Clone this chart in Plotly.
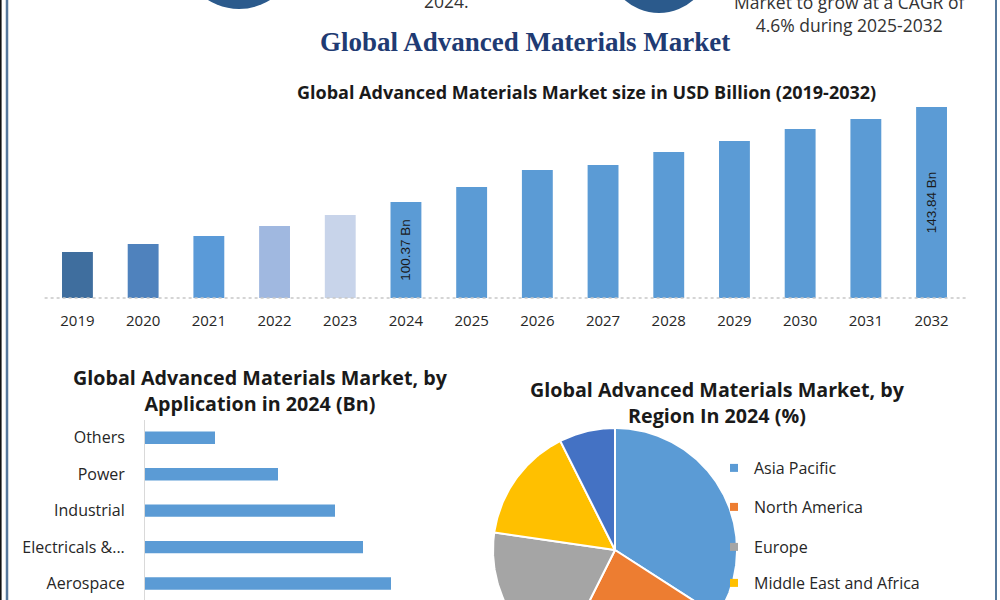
import numpy as np
import plotly.graph_objects as go

# ---------------- data ----------------
years = ["2019", "2020", "2021", "2022", "2023", "2024", "2025",
         "2026", "2027", "2028", "2029", "2030", "2031", "2032"]
market_size = [77.5, 81.1, 84.8, 89.4, 94.4, 100.37, 107.2,
               115.0, 117.3, 123.2, 128.3, 133.8, 138.4, 143.84]
labelled_years = ["2024", "2032"]

applications = ["Aerospace", "Electricals &...", "Industrial", "Power", "Others"]
application_values = [24.6, 21.8, 19.0, 13.3, 7.0]

regions = ["Asia Pacific", "North America", "Europe",
           "Middle East and Africa", "South America"]
region_shares = [34.1, 23.3, 19.9, 15.3, 7.4]

# ---------------- styles ----------------
W, H = 1000, 600
def px(x):
    return x / W
def py(y):
    return 1 - y / H

AXIS_FLOOR = 56.4   # value axis of the main chart does not start at zero
bar_colors = ["#3F6E9E", "#4F82BD", "#5A9AD8", "#A0B8E0", "#C8D4EA"] + ["#5B9BD5"] * 9
region_colors = ["#5B9BD5", "#ED7D31", "#A5A5A5", "#FFC000", "#4472C4"]
SANS = "Open Sans"
TXT = "#262626"

fig = go.Figure()

# ---- main bar chart ----
bar_text = [f"{v:.2f} Bn" if y in labelled_years else "" for y, v in zip(years, market_size)]
fig.add_trace(go.Bar(
    x=years, y=[v - AXIS_FLOOR for v in market_size], base=AXIS_FLOOR,
    customdata=market_size, hovertemplate="%{x}: %{customdata} Bn<extra></extra>",
    marker=dict(color=bar_colors, line=dict(width=0)),
    width=0.47, text=bar_text, textposition="inside", insidetextanchor="middle",
    textangle=-90, textfont=dict(family="Liberation Sans", size=13.5, color="#1a1a1a"),
    showlegend=False, xaxis="x", yaxis="y",
))

# ---- application horizontal bars ----
fig.add_trace(go.Bar(
    y=applications, x=application_values, orientation="h",
    marker=dict(color="#5B9BD5", line=dict(width=0)), width=0.34,
    showlegend=False, xaxis="x2", yaxis="y2",
))

# ---- region pie (wedges drawn on an equal-scale xy subplot so it can be cropped) ----
R = 122
total = sum(region_shares)
start = 0.0
for name, share, col in zip(regions, region_shares, region_colors):
    end = start + share / total * 360.0
    th = np.radians(np.linspace(start, end, max(3, int(share * 6))))
    xs = np.concatenate([[0], R * np.sin(th), [0]])
    ys = np.concatenate([[0], R * np.cos(th), [0]])
    fig.add_trace(go.Scatter(
        x=xs, y=ys, mode="lines", fill="toself", fillcolor=col,
        line=dict(color="white", width=2), name=name, showlegend=False,
        hoverinfo="name", xaxis="x3", yaxis="y3",
    ))
    start = end

# one small legend per visible region entry (the list continues below the crop)
legend_names = ["legend", "legend2", "legend3", "legend4"]
for name, col, lg in zip(regions[:4], region_colors[:4], legend_names):
    fig.add_trace(go.Scatter(
        x=[None], y=[None], mode="markers",
        marker=dict(symbol="square", size=8, color=col),
        name=name, showlegend=True, legend=lg, xaxis="x3", yaxis="y3",
    ))

# ---------------- layout ----------------
legend_style = dict(x=px(714), xanchor="left", font=dict(family=SANS, size=16, color=TXT),
                    itemwidth=30, bgcolor="rgba(0,0,0,0)")
fig.update_layout(
    width=W, height=H, margin=dict(l=0, r=0, t=0, b=0),
    paper_bgcolor="white", plot_bgcolor="white",
    xaxis=dict(domain=[px(44.6), px(964.4)], anchor="y", showgrid=False, zeroline=False,
               showline=False, ticks="", ticklabelstandoff=12,
               tickfont=dict(family=SANS, size=15, color=TXT)),
    yaxis=dict(domain=[py(298), py(100)], anchor="x", range=[AXIS_FLOOR, 147.06],
               visible=False, showgrid=False, zeroline=False),
    xaxis2=dict(domain=[px(145), px(469)], anchor="y2", range=[0, 32.4],
                visible=False, showgrid=False, zeroline=False),
    yaxis2=dict(domain=[0, py(419.6)], anchor="x2", range=[-0.453, 4.5],
                type="category", categoryorder="array", categoryarray=applications,
                showgrid=False, zeroline=False, showline=True, linecolor="#D9D9D9",
                linewidth=1, ticks="", ticklabelstandoff=16,
                tickfont=dict(family=SANS, size=16, color=TXT)),
    xaxis3=dict(domain=[px(470), px(760)], anchor="y3", range=[-145, 145],
                visible=False, showgrid=False, zeroline=False),
    yaxis3=dict(domain=[0, py(420)], anchor="x3", range=[-50, 130],
                visible=False, showgrid=False, zeroline=False),
    legend=dict(y=py(468), yanchor="middle", **legend_style),
    legend2=dict(y=py(507), yanchor="middle", **legend_style),
    legend3=dict(y=py(547), yanchor="middle", **legend_style),
    legend4=dict(y=0, yanchor="bottom", **legend_style),
)

# decorations: borders, circles, dotted baseline
shapes = [
    dict(type="line", xref="paper", yref="paper", x0=px(0.8), x1=px(0.8), y0=0, y1=1,
         line=dict(color="#111111", width=1.6)),
    dict(type="line", xref="paper", yref="paper", x0=px(7), x1=px(7), y0=0, y1=1,
         line=dict(color="#56789C", width=2.5)),
    dict(type="line", xref="paper", yref="paper", x0=px(996), x1=px(996), y0=0, y1=1,
         line=dict(color="#56789C", width=2)),
    dict(type="circle", xref="paper", yref="paper", x0=px(181), x1=px(297),
         y0=py(9), y1=py(-107), fillcolor="#2B5A8C", line=dict(width=0)),
    dict(type="circle", xref="paper", yref="paper", x0=px(607), x1=px(711),
         y0=py(13), y1=py(-91), fillcolor="#2B5A8C", line=dict(width=0)),
    dict(type="line", xref="x domain", yref="y domain", x0=0, x1=1.002, y0=0, y1=0,
         line=dict(color="#C8C8C8", width=1.5, dash="dot")),
]
fig.update_layout(shapes=shapes)

annotations = [
    dict(text="2024.", x=px(446), y=py(1), font=dict(family=SANS, size=17.5, color="#333333")),
    dict(text="Market to grow at a CAGR of<br>4.6% during 2025-2032", x=px(849), y=py(13),
         font=dict(family=SANS, size=17.5, color="#333333")),
    dict(text="<b>Global Advanced Materials Market</b>", x=px(525), y=py(42),
         font=dict(family="Liberation Serif", size=27, color="#1F3B73")),
    dict(text="<b>Global Advanced Materials Market size in USD Billion (2019-2032)</b>",
         x=px(586), y=py(92), font=dict(family=SANS, size=18, color="#1a1a1a")),
    dict(text="<b>Global Advanced Materials Market, by<br>Application in 2024 (Bn)</b>",
         x=px(260), y=py(391), font=dict(family=SANS, size=19.7, color="#1a1a1a")),
    dict(text="<b>Global Advanced Materials Market, by<br>Region In 2024 (%)</b>",
         x=px(717), y=py(402), font=dict(family=SANS, size=19.7, color="#1a1a1a")),
]
for a in annotations:
    a.update(xref="paper", yref="paper", showarrow=False, xanchor="center", yanchor="middle")
fig.update_layout(annotations=annotations)

fig.write_html("out.html")
